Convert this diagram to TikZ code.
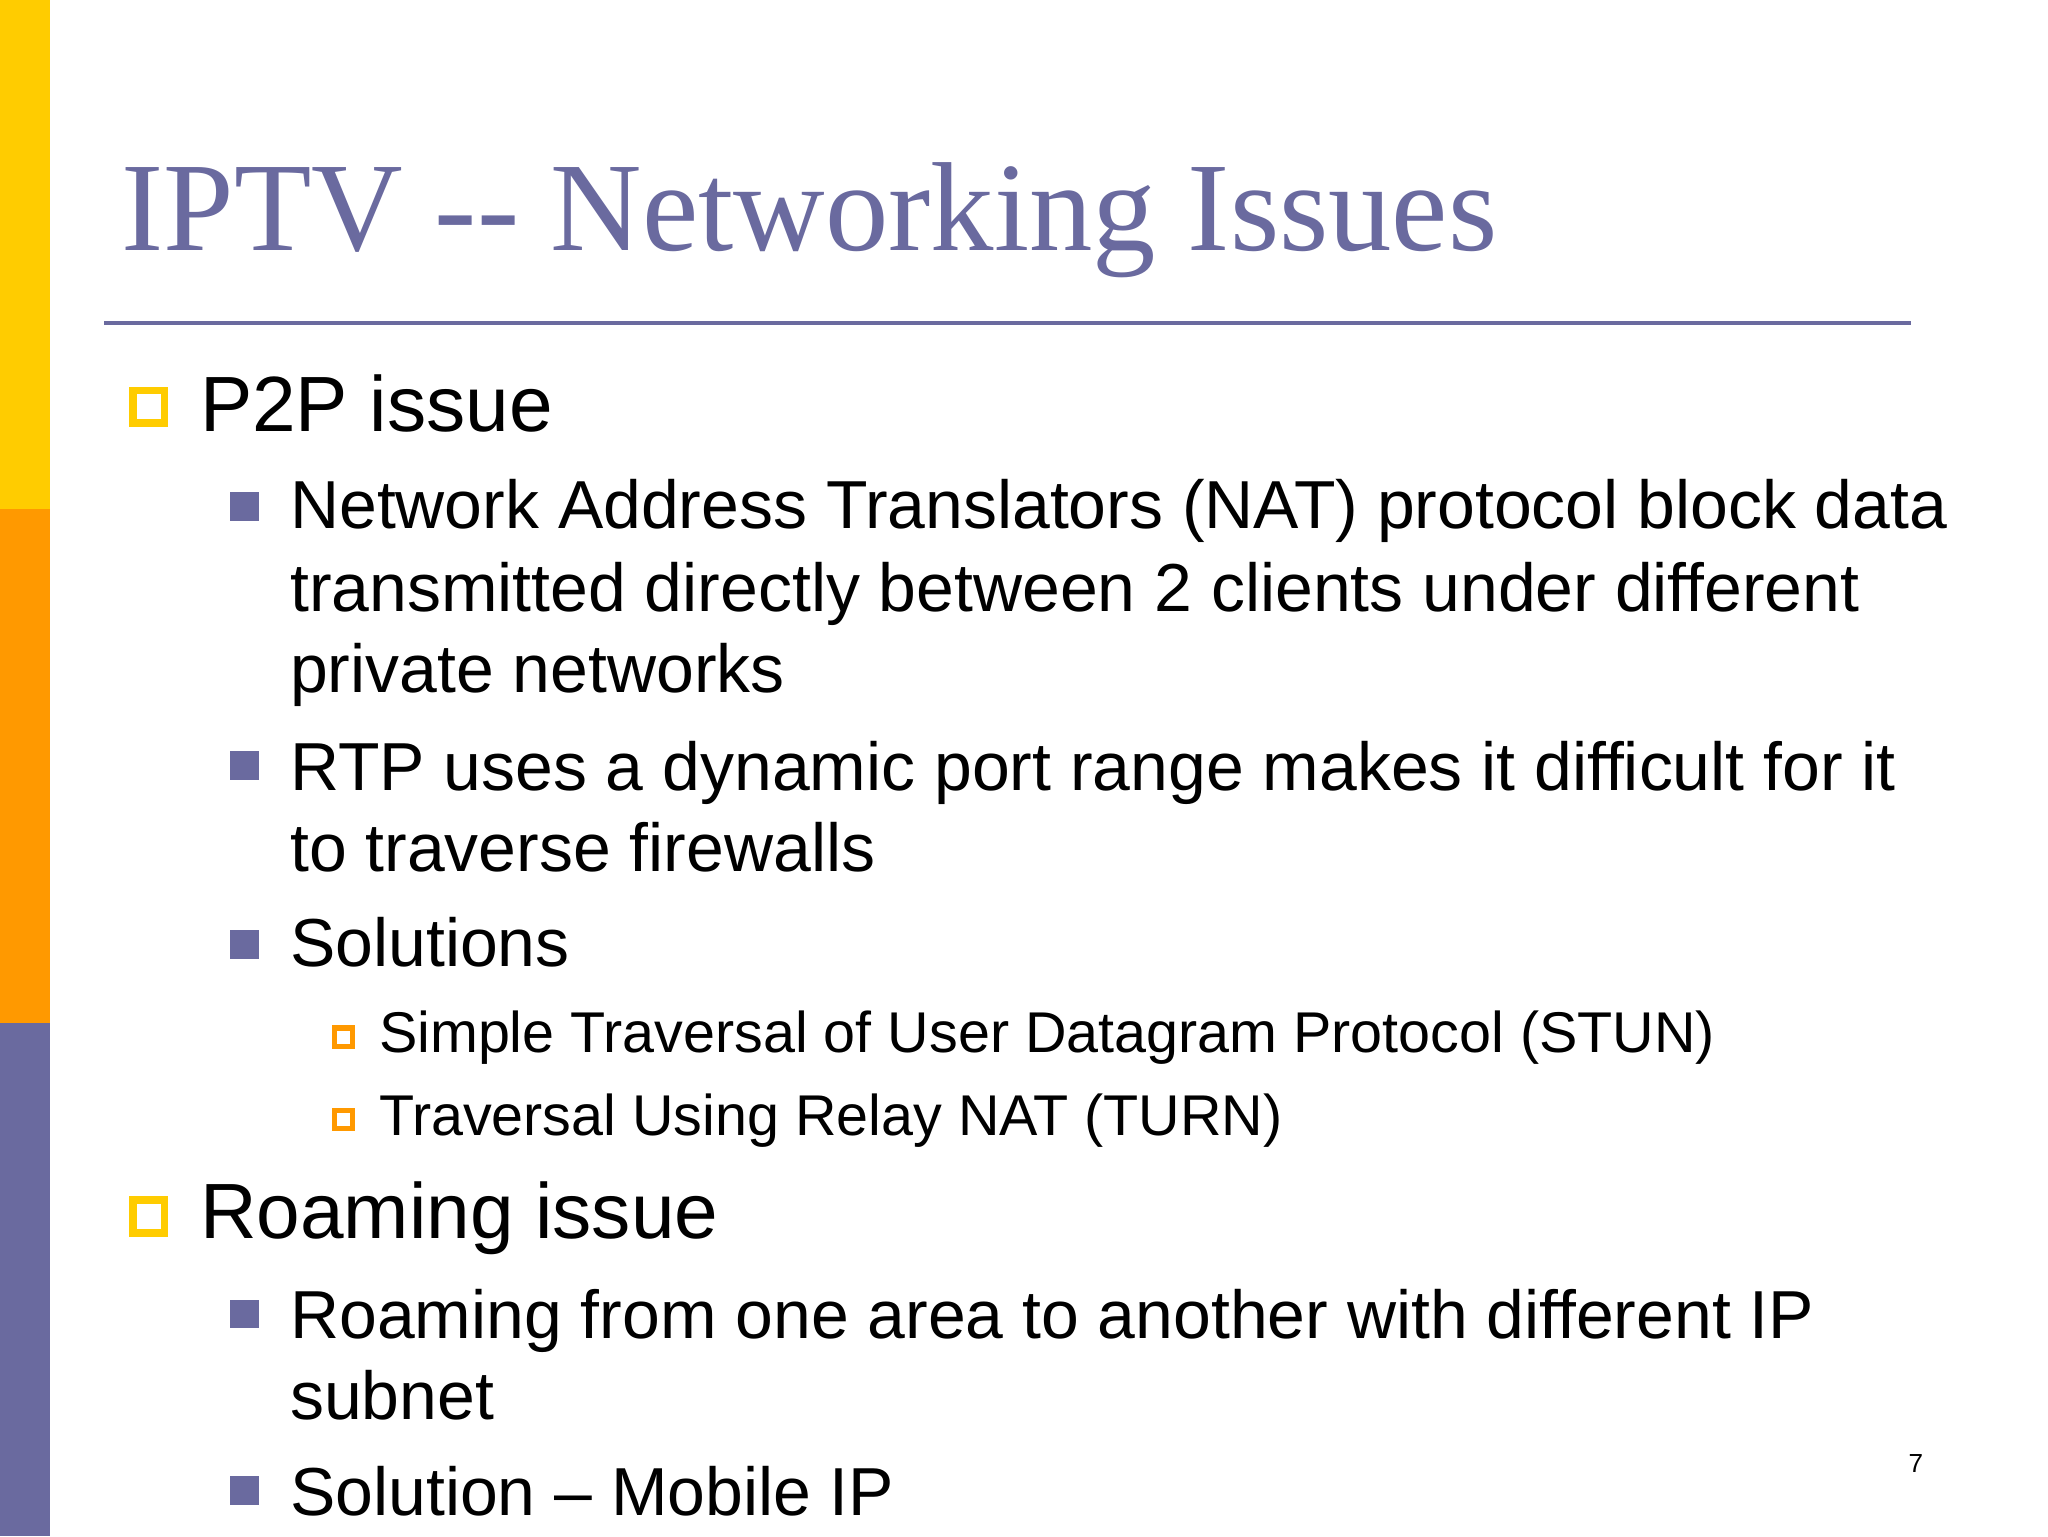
\documentclass[tikz,border=0pt]{standalone}
\usepackage{fontspec}
\setmainfont{Liberation Sans}
\newfontfamily\titlefont{Liberation Serif}
\definecolor{slpurple}{HTML}{6A6A9F}
\definecolor{slyellow}{HTML}{FFCC00}
\definecolor{slorange}{HTML}{FF9900}
\tikzset{
  lone/.style={anchor=base west,inner sep=0pt,font=\fontsize{60}{72}\selectfont},
  ltwo/.style={anchor=base west,inner sep=0pt,font=\fontsize{52}{62}\selectfont},
  lthree/.style={anchor=base west,inner sep=0pt,font=\fontsize{44}{52}\selectfont},
  bone/.style={draw=slyellow,line width=6pt,fill=white},
  btwo/.style={fill=slpurple},
  bthree/.style={draw=slorange,line width=4pt,fill=white}
}
\begin{document}
\begin{tikzpicture}[x=1pt,y=-1pt]
\useasboundingbox (0,0) rectangle (1568,1176);
\fill[white] (0,0) rectangle (1568,1176);
\fill[slyellow] (0,0) rectangle (38,390);
\fill[slorange] (0,390) rectangle (38,783);
\fill[slpurple] (0,783) rectangle (38,1176);
\node[anchor=base west,inner sep=0pt,text=slpurple,font=\titlefont\fontsize{97}{110}\selectfont] (title) at (93,192) {IPTV -- Networking Issues};
\coordinate (la) at (80,247); \coordinate (lb) at (1463,247);
\draw[slpurple,line width=3pt] (la) -- (lb);
% level 1
\draw[bone] (102,299) rectangle (126,324);
\node[lone] (p2p) at (153,330) {P2P issue};
\draw[bone] (102,919) rectangle (126,944);
\node[lone] (roam) at (153,948) {Roaming issue};
% level 2
\foreach \y in {377,575,712,995,1130} \fill[btwo] (176,\y) rectangle (198,\y+22);
\node[ltwo] (t1) at (222,405) {Network Address Translators (NAT) protocol block data};
\node[ltwo] (t2) at (222,468) {transmitted directly between 2 clients under different};
\node[ltwo] (t3) at (222,530) {private networks};
\node[ltwo] (t4) at (222,605) {RTP uses a dynamic port range makes it difficult for it};
\node[ltwo] (t5) at (222,667) {to traverse firewalls};
\node[ltwo] (t6) at (222,740) {Solutions};
\node[ltwo] (t7) at (222,1025) {Roaming from one area to another with different IP};
\node[ltwo] (t8) at (222,1087) {subnet};
\node[ltwo] (t9) at (222,1160) {Solution -- Mobile IP};
% level 3
\draw[bthree] (256,787) rectangle (270,801);
\draw[bthree] (256,850) rectangle (270,864);
\node[lthree] (s1) at (290,806) {Simple Traversal of User Datagram Protocol (STUN)};
\node[lthree] (s2) at (290,869) {Traversal Using Relay NAT (TURN)};
\node[anchor=base west,inner sep=0pt,font=\fontsize{20}{24}\selectfont] (pg) at (1461,1127) {7};
\end{tikzpicture}
\end{document}
